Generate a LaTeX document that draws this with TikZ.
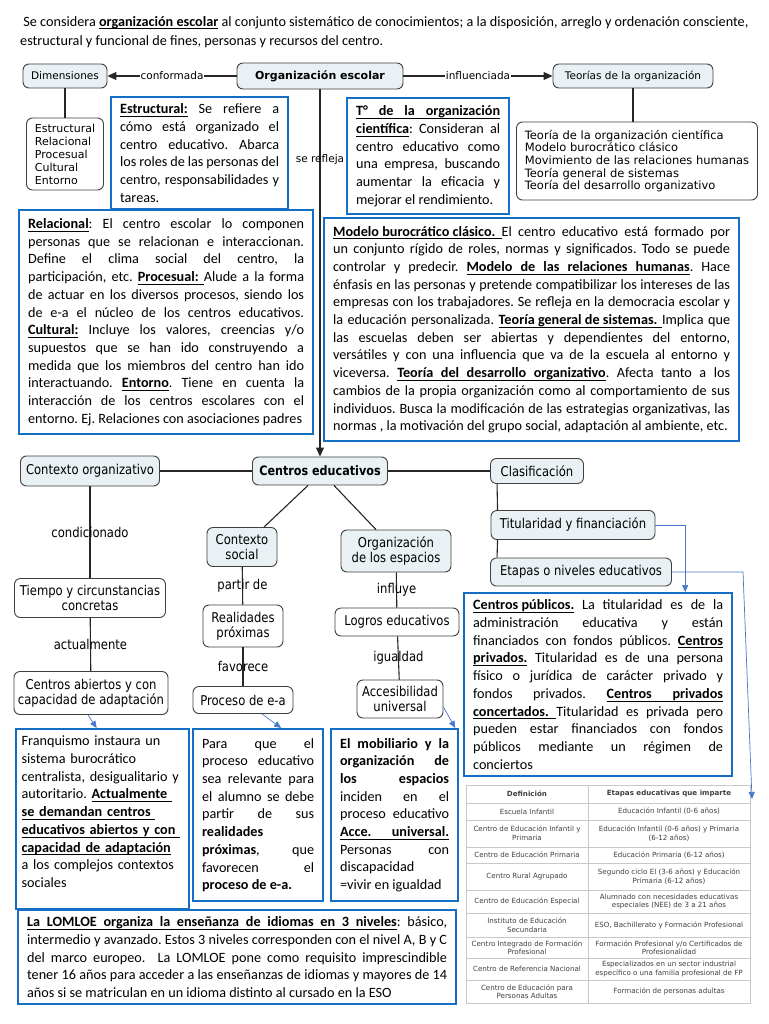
\documentclass[tikz,border=0pt]{standalone}
\usepackage{fontspec}
\setmainfont{Carlito}
\newfontfamily\cmapfont{DejaVu Sans}
\newfontfamily\cmapcond[FakeStretch=0.86]{DejaVu Sans}
\usetikzlibrary{arrows.meta}
\definecolor{boxblue}{RGB}{20,110,195}
\definecolor{arrblue}{RGB}{70,120,205}
\definecolor{cmapfill}{RGB}{233,241,245}
\definecolor{tblline}{RGB}{200,200,200}
\newcommand{\bodytext}{\fontsize{14.2}{17.7}\selectfont}
% bold, underlined at a fixed depth
\newcommand{\ubf}[1]{\leavevmode\setbox0\hbox{\textbf{#1}}\rlap{\rule[-3pt]{\wd0}{0.8pt}}\box0\relax}
% underlined stretchable space
\newcommand{\ulsp}{\leaders\hrule height -2.2pt depth 3pt\hskip\fontdimen2\font plus\fontdimen3\font minus\fontdimen4\font}

\begin{document}
\frenchspacing
\begin{tikzpicture}[x=1pt, y=-1pt,
    cmap/.style={rectangle, rounded corners=6pt, draw=black!75, fill=cmapfill, line width=0.9pt, inner sep=2pt, align=center, font=\cmapfont\fontsize{10.5}{12.5}\selectfont},
    cmapc/.style={cmap, font=\cmapcond\fontsize{13.5}{15}\selectfont},
    listbox/.style={rectangle, rounded corners=6pt, draw=black!75, fill=white, line width=0.9pt, align=left, inner xsep=5pt},
    bluebox/.style={rectangle, draw=boxblue, line width=2.2pt, fill=white, anchor=north west, inner xsep=9pt, inner ysep=4pt, align=justify, font=\bodytext},
    link/.style={draw=black!85, line width=1.1pt},
    arr/.style={-{Triangle[length=9pt,width=8pt]}},
    bluearr/.style={draw=arrblue, line width=0.7pt, -{Triangle[length=7pt,width=6pt]}},
    lbl/.style={font=\cmapfont\fontsize{10.5}{12}\selectfont, fill=white, inner sep=1pt},
    lblc/.style={font=\cmapcond\fontsize{13.5}{15}\selectfont, inner sep=1pt},
    cell/.style={font=\cmapfont\fontsize{7.1}{8.6}\selectfont, text=black!75, align=center, inner sep=0pt},
    tblgrid/.style={draw=tblline, line width=0.7pt}
  ]
  \useasboundingbox[fill=white] (0,0) rectangle (768,1024);

  % heading
  \node[anchor=north west, align=left, inner sep=0pt, font=\fontsize{14.2}{19}\selectfont] (intro) at (20,16)
    {\ Se considera \ubf{organización escolar} al conjunto sistemático de conocimientos; a la disposición, arreglo y ordenación consciente,\\
     estructural y funcional de fines, personas y recursos del centro.};

  % upper concept map
  \node[cmap, minimum width=84pt, minimum height=24pt] (dimen) at (65,76) {Dimensiones};
  \node[cmap, minimum width=166pt, minimum height=26pt, font=\cmapfont\bfseries\fontsize{11}{13}\selectfont] (orgesc) at (320,76) {Organización escolar};
  \node[cmap, minimum width=160pt, minimum height=24pt] (teorias) at (633,76) {Teorías de la organización};
  \node[listbox, minimum width=77pt, minimum height=72pt, font=\cmapfont\fontsize{11}{13}\selectfont, inner xsep=7pt] (dimlist) at (65,154)
    {Estructural\\Relacional\\Procesual\\Cultural\\Entorno};
  \node[listbox, minimum width=241pt, minimum height=78pt, font=\cmapfont\fontsize{11.5}{12.7}\selectfont] (teolist) at (637,161)
    {Teoría de la organización científica\\Modelo burocrático clásico\\Movimiento de las relaciones humanas\\Teoría general de sistemas\\Teoría del desarrollo organizativo};

  \draw[link, arr] (orgesc) -- node[lbl]{conformada} (dimen);
  \draw[link, arr] (orgesc) -- node[lbl]{influenciada} (teorias);
  \draw[link] (dimen) -- (dimlist);
  \draw[link] (teorias.south) -- (teorias.south |- teolist.north);

  % text boxes, upper half
  \node[bluebox, text width=159pt, minimum height=112pt] (estr) at (110,96) {%
    \ubf{Estructural:} Se refiere a\linebreak
    cómo está organizado el\linebreak
    centro educativo. Abarca\linebreak
    los roles de las personas del\linebreak
    centro, responsabilidades y\linebreak
    tareas.};
  \node[bluebox, text width=144pt, minimum height=116pt] (cient) at (346,97) {%
    \ubf{T°}\ulsp\ubf{de}\ulsp\ubf{la}\ulsp\ubf{organización}\linebreak
    \ubf{científica}: Consideran al\linebreak
    centro educativo como\linebreak
    una empresa, buscando\linebreak
    aumentar la eficacia y\linebreak
    mejorar el rendimiento.};
  \node[bluebox, text width=276pt, minimum height=224pt] (relac) at (18,209) {%
    \ubf{Relacional}: El centro escolar lo componen\linebreak
    personas que se relacionan e interaccionan.\linebreak
    Define el clima social del centro, la\linebreak
    participación, etc. \ubf{Procesual:}\ulsp Alude a la forma\linebreak
    de actuar en los diversos procesos, siendo los\linebreak
    de e-a el núcleo de los centros educativos.\linebreak
    \ubf{Cultural:} Incluye los valores, creencias y/o\linebreak
    supuestos que se han ido construyendo a\linebreak
    medida que los miembros del centro han ido\linebreak
    interactuando. \ubf{Entorno}. Tiene en cuenta la\linebreak
    interacción de los centros escolares con el\linebreak
    entorno. Ej. Relaciones con asociaciones padres};
  \node[bluebox, text width=397pt, minimum height=223pt] (model) at (323,217) {%
    \ubf{Modelo burocrático clásico.}\ulsp El centro educativo está formado por\linebreak
    un conjunto rígido de roles, normas y significados. Todo se puede\linebreak
    controlar y predecir. \ubf{Modelo}\ulsp\ubf{de}\ulsp\ubf{las}\ulsp\ubf{relaciones}\ulsp\ubf{humanas}. Hace\linebreak
    énfasis en las personas y pretende compatibilizar los intereses de las\linebreak
    empresas con los trabajadores. Se refleja en la democracia escolar y\linebreak
    la educación personalizada. \ubf{Teoría general de sistemas.}\ulsp Implica que\linebreak
    las escuelas deben ser abiertas y dependientes del entorno,\linebreak
    versátiles y con una influencia que va de la escuela al entorno y\linebreak
    viceversa. \ubf{Teoría}\ulsp\ubf{del}\ulsp\ubf{desarrollo}\ulsp\ubf{organizativo}. Afecta tanto a los\linebreak
    cambios de la propia organización como al comportamiento de sus\linebreak
    individuos. Busca la modificación de las estrategias organizativas, las\linebreak
    normas , la motivación del grupo social, adaptación al ambiente, etc.};

  % lower concept map
  \node[cmapc, minimum width=139pt, minimum height=30pt] (ctxorg) at (90,471) {Contexto organizativo};
  \node[cmapc, minimum width=135pt, minimum height=28pt, font=\cmapcond\bfseries\fontsize{13}{15}\selectfont] (centros) at (320,471) {Centros educativos};
  \node[cmapc, minimum width=93pt, minimum height=25pt] (clasif) at (537,471) {Clasificación};
  \node[cmapc, minimum width=164pt, minimum height=29pt] (titul) at (573,525) {Titularidad y financiación};
  \node[cmapc, minimum width=181pt, minimum height=28pt] (etapas) at (581,572) {Etapas o niveles educativos};
  \node[cmapc, minimum width=70pt, minimum height=39pt] (ctxsoc) at (242,547) {Contexto\\social};
  \node[cmapc, minimum width=110pt, minimum height=42pt] (orgesp) at (396,551) {Organización\\de los espacios};
  \node[cmapc, fill=white, minimum width=151pt, minimum height=39pt] (tiempo) at (90,598) {Tiempo y circunstancias\\concretas};
  \node[cmapc, fill=white, minimum width=80pt, minimum height=42pt] (realid) at (243,626) {Realidades\\próximas};
  \node[cmapc, fill=white, minimum width=124pt, minimum height=28pt] (logros) at (397,622) {Logros educativos};
  \node[cmapc, fill=white, minimum width=154pt, minimum height=43pt] (abiertos) at (91,693) {Centros abiertos y con\\capacidad de adaptación};
  \node[cmapc, fill=white, minimum width=100pt, minimum height=27pt] (proceso) at (243,700) {Proceso de e-a};
  \node[cmapc, fill=white, minimum width=86pt, minimum height=38pt] (acces) at (400,699) {Accesibilidad\\universal};

  \draw[link, arr] (orgesc) -- node[pos=0.19, lbl, fill=none]{se refleja} (centros);
  \draw[link] (ctxorg) -- (centros);
  \draw[link] (centros) -- (clasif);
  \draw[link] ([xshift=7pt]clasif.south west) -- ([xshift=7pt]titul.north west);
  \draw[link] ([xshift=7pt]titul.south west) -- ([xshift=7pt]etapas.north west);
  \draw[link] ([xshift=-12pt]centros.south) -- ([xshift=22pt]ctxsoc.north);
  \draw[link] ([xshift=14pt]centros.south) -- ([xshift=-20pt]orgesp.north);
  \draw[link] (ctxorg) -- node[lblc]{condicionado} (tiempo);
  \draw[link] (tiempo) -- node[lblc]{actualmente} (abiertos);
  \draw[link] (ctxsoc) -- node[lblc]{partir de} (realid);
  \draw[link] (realid) -- node[lblc]{favorece} (proceso);
  \draw[link] (orgesp) -- node[lblc]{influye} (logros);
  \draw[link] (logros) -- node[lblc]{igualdad} (acces);

  % text boxes, lower half
  \node[bluebox, align=left, text width=162pt, inner xsep=5.5pt, minimum height=180pt] (franq) at (15,728) {%
    Franquismo instaura un\\
    sistema burocrático\\
    centralista, desigualitario y\\
    autoritario. \ubf{Actualmente\ }\\
    \ubf{se demandan centros\ }\\
    \ubf{educativos abiertos y con\ }\\
    \ubf{capacidad de adaptación}\\
    a los complejos contextos\\
    sociales\\[-3pt]\mbox{}};
  \node[bluebox, text width=112pt, minimum height=172pt] (paraq) at (192,728) {%
    Para que el\linebreak
    proceso educativo\linebreak
    sea relevante para\linebreak
    el alumno se debe\linebreak
    partir de sus\linebreak
    \textbf{realidades}\linebreak
    \textbf{próximas}, que\linebreak
    favorecen el\linebreak
    \textbf{proceso de e-a.}};
  \node[bluebox, text width=109pt, minimum height=172pt] (mobil) at (330,728) {%
    \textbf{El mobiliario y la}\linebreak
    \textbf{organización de}\linebreak
    \textbf{los espacios}\linebreak
    inciden en el\linebreak
    proceso educativo\linebreak
    \ubf{Acce.}\ulsp\ubf{universal.}\linebreak
    Personas con\linebreak
    discapacidad\linebreak
    =vivir en igualdad};
  \node[bluebox, text width=250pt, minimum height=183pt] (publ) at (463,592) {%
    \ubf{Centros públicos.} La titularidad es de la\linebreak
    administración educativa y están\linebreak
    financiados con fondos públicos. \ubf{Centros}\linebreak
    \ubf{privados.} Titularidad es de una persona\linebreak
    físico o jurídica de carácter privado y\linebreak
    fondos privados. \ubf{Centros}\ulsp\ubf{privados}\linebreak
    \ubf{concertados.}\ulsp Titularidad es privada pero\linebreak
    pueden estar financiados con fondos\linebreak
    públicos mediante un régimen de\linebreak
    conciertos};
  \node[bluebox, text width=420pt, minimum height=94pt] (lomloe) at (17,909) {%
    \ubf{La}\ulsp\ubf{LOMLOE}\ulsp\ubf{organiza}\ulsp\ubf{la}\ulsp\ubf{enseñanza}\ulsp\ubf{de}\ulsp\ubf{idiomas}\ulsp\ubf{en}\ulsp\ubf{3}\ulsp\ubf{niveles}: básico,\linebreak
    intermedio y avanzado. Estos 3 niveles corresponden con el nivel A, B y C\linebreak
    del marco europeo. \ La LOMLOE pone como requisito imprescindible\linebreak
    tener 16 años para acceder a las enseñanzas de idiomas y mayores de 14\linebreak
    años si se matriculan en un idioma distinto al cursado en la ESO};

  % table of centres
  \draw[tblgrid] (466,785) rectangle (750,1003);
  \foreach \yy in {803,820,847,863,890,913,937,958,980}
    \draw[tblgrid] (466,\yy) -- (750,\yy);
  \draw[tblgrid] (588,785) -- (588,1003);
  \foreach \rw/\yc/\tdef/\tetap in {
      0/794/{\textbf{Definición}}/{\textbf{Etapas educativas que imparte}},
      1/811.5/{Escuela Infantil}/{Educación Infantil (0-6 años)},
      2/833.5/{Centro de Educación Infantil y\\Primaria}/{Educación Infantil (0-6 años) y Primaria\\(6-12 años)},
      3/855/{Centro de Educación Primaria}/{Educación Primaria (6-12 años)},
      4/876.5/{Centro Rural Agrupado}/{Segundo ciclo EI (3-6 años) y Educación\\Primaria (6-12 años)},
      5/901.5/{Centro de Educación Especial}/{Alumnado con necesidades educativas\\especiales (NEE) de 3 a 21 años},
      6/925/{Instituto de Educación\\Secundaria}/{ESO, Bachillerato y Formación Profesional},
      7/947.5/{Centro Integrado de Formación\\Profesional}/{Formación Profesional y/o Certificados de\\Profesionalidad},
      8/969/{Centro de Referencia Nacional}/{Especializados en un sector industrial\\específico o una familia profesional de FP},
      9/991.5/{Centro de Educación para\\Personas Adultas}/{Formación de personas adultas}}
  {
    \node[cell] (def\rw) at (527,\yc) {\tdef};
    \node[cell] (eta\rw) at (669,\yc) {\tetap};
  }

  % blue pointers
  \coordinate (etabend) at (743,572);
  \coordinate (tabhead) at (752,799);
  \draw[bluearr] ([xshift=-3pt]abiertos.south) -- ([xshift=-6pt]franq.north);
  \draw[bluearr] ([xshift=19pt]proceso.south) -- ([xshift=23pt]paraq.north);
  \draw[bluearr] ([yshift=-8pt]acces.east) -- ([xshift=-4pt]mobil.north east);
  \draw[bluearr] (titul.east) -| ([xshift=-48pt]publ.north east);
  \draw[bluearr] (etapas.east) -- (etabend) -- (tabhead);
\end{tikzpicture}
\end{document}
